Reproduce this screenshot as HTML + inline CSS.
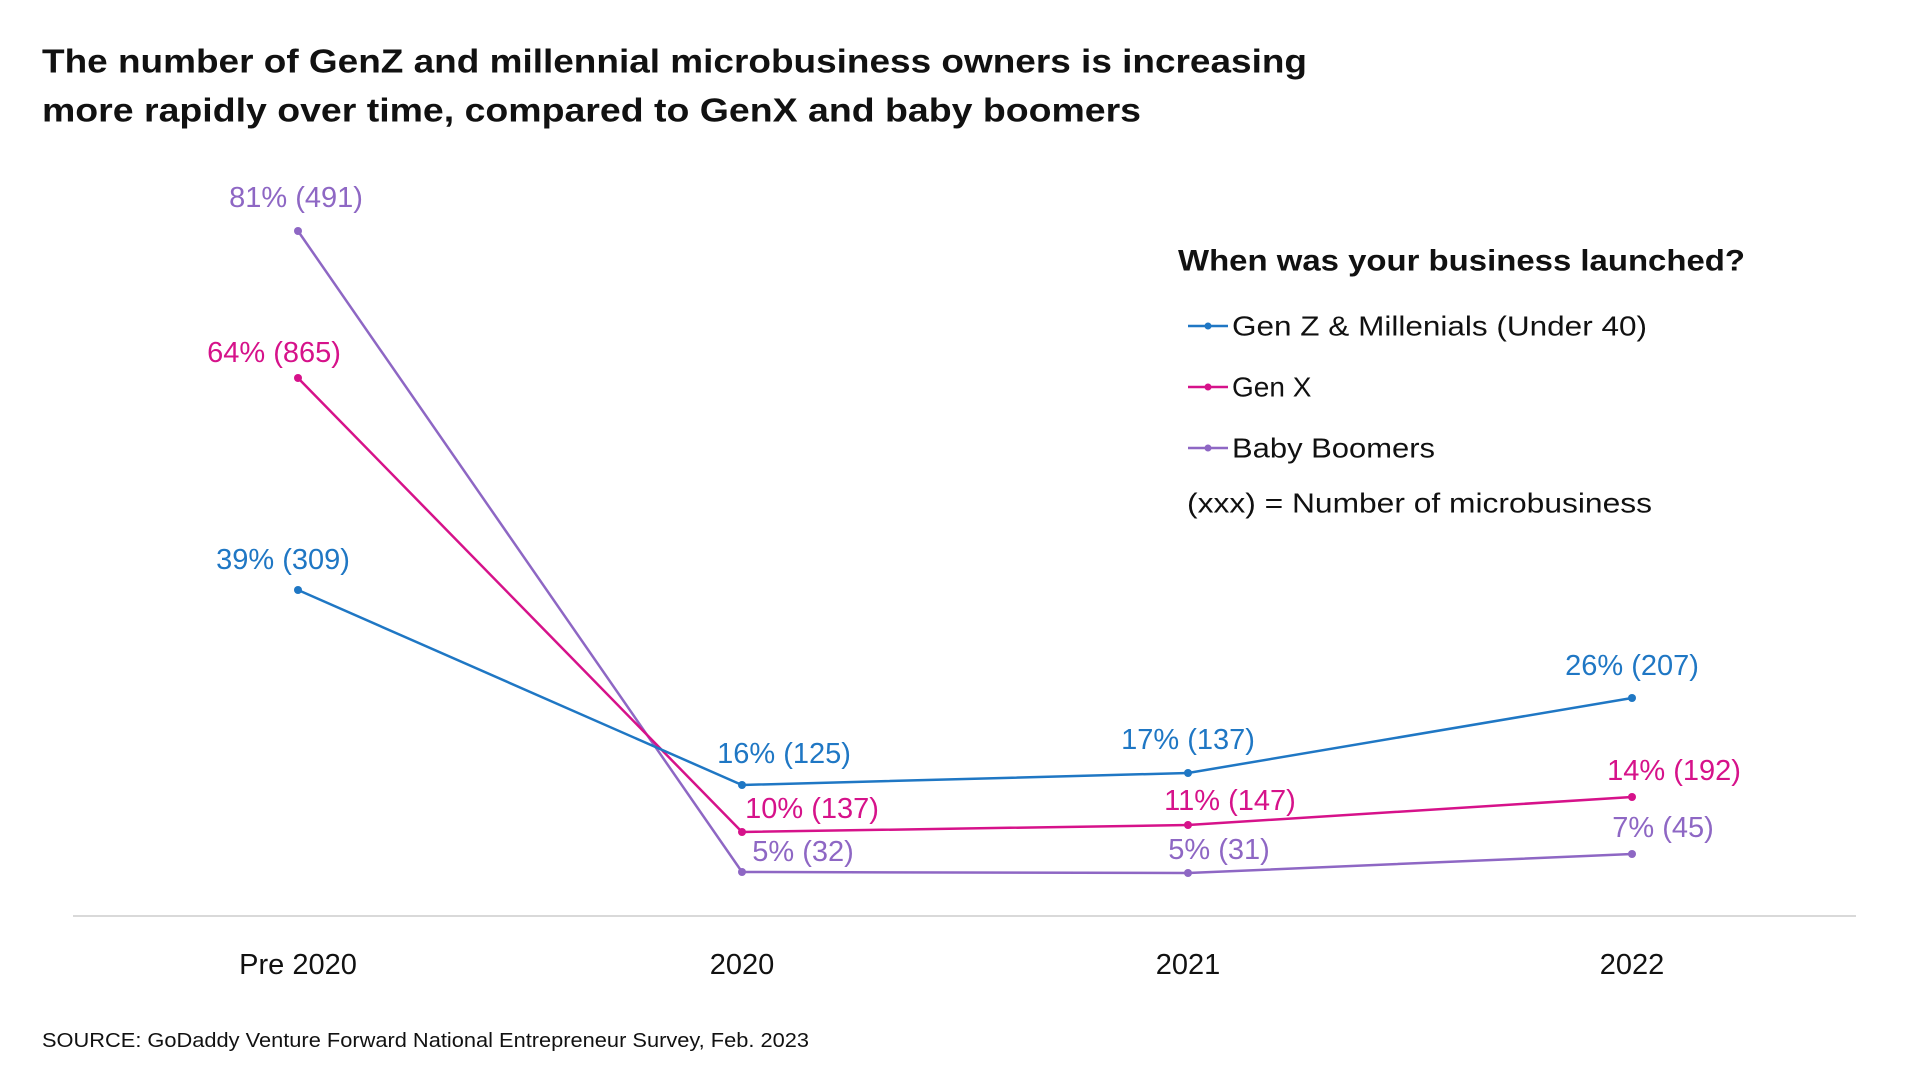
<!DOCTYPE html>
<html><head><meta charset="utf-8"><style>
html,body{margin:0;padding:0;background:#fff;}
svg{display:block;font-family:"Liberation Sans",sans-serif;}
</style></head><body>
<svg width="1920" height="1080" viewBox="0 0 1920 1080" xmlns="http://www.w3.org/2000/svg">
<text x="42" y="61" font-size="33" font-weight="bold" fill="#111" dominant-baseline="central" textLength="1265" lengthAdjust="spacingAndGlyphs">The number of GenZ and millennial microbusiness owners is increasing</text>
<text x="42" y="110" font-size="33" font-weight="bold" fill="#111" dominant-baseline="central" textLength="1099" lengthAdjust="spacingAndGlyphs">more rapidly over time, compared to GenX and baby boomers</text>

<line x1="73" y1="916" x2="1856" y2="916" stroke="#d9d9d9" stroke-width="2"/>
<g font-size="29" fill="#111" text-anchor="middle" dominant-baseline="central">
<text x="298" y="965">Pre 2020</text><text x="742" y="965">2020</text><text x="1188" y="965">2021</text><text x="1632" y="965">2022</text>
</g>

<g fill="none" stroke-width="2.5">
<polyline stroke="#8e67c4" points="298,231 742,872 1188,873 1632,854"/>
<polyline stroke="#d6128a" points="298,378 742,832 1188,825 1632,797"/>
<polyline stroke="#1f77c4" points="298,590 742,785 1188,773 1632,698"/>
</g>
<g fill="#8e67c4"><circle cx="298" cy="231" r="4"/><circle cx="742" cy="872" r="4"/><circle cx="1188" cy="873" r="4"/><circle cx="1632" cy="854" r="4"/></g>
<g fill="#d6128a"><circle cx="298" cy="378" r="4"/><circle cx="742" cy="832" r="4"/><circle cx="1188" cy="825" r="4"/><circle cx="1632" cy="797" r="4"/></g>
<g fill="#1f77c4"><circle cx="298" cy="590" r="4"/><circle cx="742" cy="785" r="4"/><circle cx="1188" cy="773" r="4"/><circle cx="1632" cy="698" r="4"/></g>

<g font-size="29" text-anchor="middle" dominant-baseline="central">
<g fill="#8e67c4"><text x="296" y="198">81% (491)</text><text x="803" y="852">5% (32)</text><text x="1219" y="850">5% (31)</text><text x="1663" y="828">7% (45)</text></g>
<g fill="#d6128a"><text x="274" y="353">64% (865)</text><text x="812" y="809">10% (137)</text><text x="1230" y="801">11% (147)</text><text x="1674" y="771">14% (192)</text></g>
<g fill="#1f77c4"><text x="283" y="560">39% (309)</text><text x="784" y="754">16% (125)</text><text x="1188" y="740">17% (137)</text><text x="1632" y="666">26% (207)</text></g>
</g>

<text x="1178" y="261" font-size="30" font-weight="bold" fill="#111" dominant-baseline="central" textLength="567" lengthAdjust="spacingAndGlyphs">When was your business launched?</text>
<g stroke-width="2.5">
<line x1="1188" y1="326" x2="1228" y2="326" stroke="#1f77c4"/><circle cx="1208" cy="326" r="3.5" fill="#1f77c4"/>
<line x1="1188" y1="387" x2="1228" y2="387" stroke="#d6128a"/><circle cx="1208" cy="387" r="3.5" fill="#d6128a"/>
<line x1="1188" y1="448" x2="1228" y2="448" stroke="#8e67c4"/><circle cx="1208" cy="448" r="3.5" fill="#8e67c4"/>
</g>
<g font-size="28" fill="#111" dominant-baseline="central">
<text x="1232" y="326" textLength="415" lengthAdjust="spacingAndGlyphs">Gen Z &amp; Millenials (Under 40)</text>
<text x="1232" y="387">Gen X</text>
<text x="1232" y="448" textLength="203" lengthAdjust="spacingAndGlyphs">Baby Boomers</text>
<text x="1187" y="503" textLength="465" lengthAdjust="spacingAndGlyphs">(xxx) = Number of microbusiness</text>
</g>

<text x="42" y="1041" font-size="20" fill="#111" dominant-baseline="central" textLength="767" lengthAdjust="spacingAndGlyphs">SOURCE: GoDaddy Venture Forward National Entrepreneur Survey, Feb. 2023</text>
</svg>
</body></html>
